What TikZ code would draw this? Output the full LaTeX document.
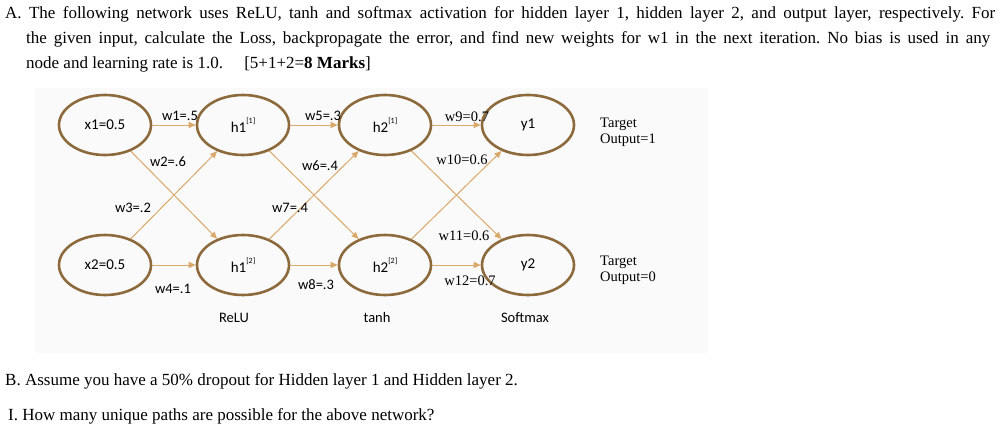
\documentclass[tikz,border=0pt]{standalone}
\usepackage{fontspec}
\setmainfont{Liberation Serif}
\newfontfamily\lab{Carlito}
\usetikzlibrary{arrows.meta,shapes.geometric}
\definecolor{edge}{HTML}{D9A86A}
\definecolor{ring}{HTML}{8C6A3C}
\frenchspacing
\begin{document}
\begin{tikzpicture}[x=1pt,y=-1pt,
  neuron/.style={draw=ring,line width=2.6pt,ellipse,minimum width=92pt,minimum height=60pt,inner sep=0pt,font=\lab\fontsize{15}{15}\selectfont},
  conn/.style={draw=edge,line width=1pt,-{Triangle[length=7pt,width=6pt]}},
  wl/.style={font=\lab\fontsize{14.5}{15}\selectfont},
  wt/.style={font=\fontsize{14.5}{16}\selectfont},
  sup/.style={},
  txt/.style={anchor=west,font=\fontsize{17}{19}\selectfont,inner sep=0pt}]
\useasboundingbox (0,0) rectangle (1000,436);
\fill[gray!4] (35,88) rectangle (708,353);
\node[txt] (l1) at (5,14) {\makebox[990pt][s]{A. The following network uses ReLU, tanh and softmax activation for hidden layer 1, hidden layer 2, and output layer, respectively. For}};
\node[txt] (l2) at (26,39) {\makebox[964pt][s]{the given input, calculate the Loss, backpropagate the error, and find new weights for w1 in the next iteration. No bias is used in any}};
\node[txt] (l3) at (26,64) {node and learning rate is 1.0.\quad\ [5+1+2=\textbf{8 Marks}]};
\node[txt] (b) at (5,381) {B. Assume you have a 50\% dropout for Hidden layer 1 and Hidden layer 2.};
\node[txt] (c) at (8,416) {I. How many unique paths are possible for the above network?};

\node[neuron] (x1) at (105,125) {x1=0.5};
\node[neuron] (x2) at (105,265) {x2=0.5};
\node[neuron] (a1) at (243,125) {h1\raisebox{1.2ex}{\fontsize{8}{8}\selectfont[1]}};
\node[neuron] (a2) at (243,265) {h1\raisebox{1.2ex}{\fontsize{8}{8}\selectfont[2]}};
\node[neuron] (b1) at (385,125) {h2\raisebox{1.2ex}{\fontsize{8}{8}\selectfont[1]}};
\node[neuron] (b2) at (385,265) {h2\raisebox{1.2ex}{\fontsize{8}{8}\selectfont[2]}};
\node[neuron] (y1) at (528,125) {y1};
\node[neuron] (y2) at (528,265) {y2};

\draw[conn] (x1) -- (a1); \draw[conn] (x1) -- (a2);
\draw[conn] (x2) -- (a1); \draw[conn] (x2) -- (a2);
\draw[conn] (a1) -- (b1); \draw[conn] (a1) -- (b2);
\draw[conn] (a2) -- (b1); \draw[conn] (a2) -- (b2);
\draw[conn] (b1) -- (y1); \draw[conn] (b1) -- (y2);
\draw[conn] (b2) -- (y1); \draw[conn] (b2) -- (y2);

\node[wl] (w1) at (180,116) {w1=.5};
\node[wl] (w2) at (168,162) {w2=.6};
\node[wl] (w3) at (133,208) {w3=.2};
\node[wl] (w4) at (173,289) {w4=.1};
\node[wl] (w5) at (323,116) {w5=.3};
\node[wl] (w6) at (320,166) {w6=.4};
\node[wl] (w7) at (290,208) {w7=.4};
\node[wl] (w8) at (316,285) {w8=.3};
\node[wt] (w9) at (467,117) {w9=0.7};
\node[wt] (w10) at (462,160) {w10=0.6};
\node[wt] (w11) at (464,236) {w11=0.6};
\node[wt] (w12) at (470,281) {w12=0.7};
\node[wl] (r) at (234,318) {ReLU};
\node[wl] (t) at (377,318) {tanh};
\node[wl] (s) at (525,318) {Softmax};
\node[wt,align=left,anchor=west,inner sep=0pt] (t1) at (600,132) {Target\\Output=1};
\node[wt,align=left,anchor=west,inner sep=0pt] (t2) at (600,270) {Target\\Output=0};
\end{tikzpicture}
\end{document}
